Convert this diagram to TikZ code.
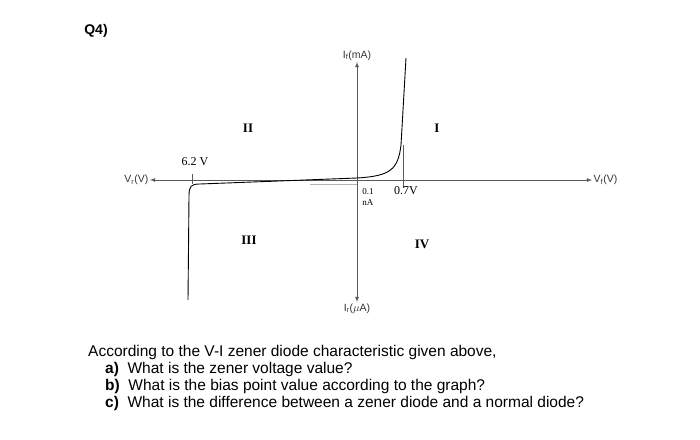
\documentclass[tikz,border=0pt]{standalone}
\usepackage{fontspec}
\setmainfont{Liberation Sans}
\newfontfamily\serifrm{Liberation Serif}
\begin{document}
\begin{tikzpicture}[x=1pt,y=-1pt,
  ax/.style={draw=gray!70!black,line width=0.8pt,-latex},
  lbl/.style={font=\fontsize{10.5}{11}\selectfont,text=black!80,inner sep=1.5pt},
  rom/.style={font=\serifrm\bfseries\fontsize{13}{14}\selectfont},
  srf/.style={font=\serifrm\fontsize{12}{13}\selectfont,inner sep=1pt},
  q/.style={font=\fontsize{15.5}{17}\selectfont,anchor=west,inner sep=0pt}]
\useasboundingbox (0,0) rectangle (700,439);
\coordinate (O) at (357,180);
\coordinate (T) at (357,62);
\coordinate (B) at (357,302);
\coordinate (L) at (150,180);
\coordinate (R) at (592,180);
\draw[ax] (O) -- (T);
\draw[ax] (O) -- (B);
\draw[ax] (O) -- (L);
\draw[ax] (O) -- (R);
\node[font=\bfseries\fontsize{14}{16}\selectfont] (q4) at (96,31) {Q4)};
\node[lbl,above] (ifl) at (T) {I$_{\rm f}$(mA)};
\node[lbl,below] (irl) at (B) {I$_{\rm r}$($\mu$A)};
\node[lbl,left] (vrl) at (L) {V$_{\rm r}$(V)};
\node[lbl,right] (vfl) at (R) {V$_{\rm f}$(V)};
\draw[line width=0.9pt] (406,58) -- (401,145) .. controls (398,170) and (390,176) .. (357,178)
  -- (200,184) .. controls (191,184) and (189,186) .. (189,196) -- (188,300);
\draw[gray!70!black,line width=0.7pt] (403,145) -- (403,188);
\draw[gray!70!black,line width=0.7pt] (192,174) -- (192,184);
\draw[gray!60,line width=0.5pt] (310,184) -- (357,184);
\node[srf] (v62) at (195,162) {6.2 V};
\node[srf,anchor=north west] (v07) at (393,185) {0.7V};
\node[srf,align=left,font=\serifrm\fontsize{9}{11}\selectfont] (na) at (368,197) {0.1\\nA};
\node[rom] (r1) at (437,128) {I};
\node[rom] (r2) at (248,128) {II};
\node[rom] (r3) at (249,240) {III};
\node[rom] (r4) at (422,244) {IV};
\node[q] (t0) at (88,352) {According to the V-I zener diode characteristic given above,};
\node[q] (ta) at (105,369) {\textbf{a)}\ \ What is the zener voltage value?};
\node[q] (tb) at (105,386) {\textbf{b)}\ \ What is the bias point value according to the graph?};
\node[q] (tc) at (105,403) {\textbf{c)}\ \ What is the difference between a zener diode and a normal diode?};
\end{tikzpicture}
\end{document}
